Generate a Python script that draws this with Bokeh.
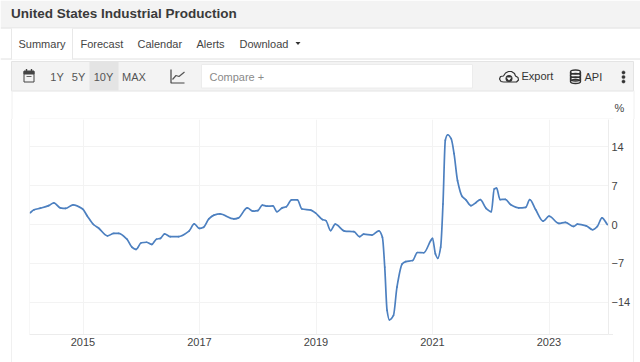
from bokeh.plotting import figure
from bokeh.layouts import column
from bokeh.models import Range1d, FixedTicker, Span
from bokeh.core.properties import value
from bokeh.embed import file_html
from bokeh.resources import INLINE

years = [2014.09,2014.16,2014.27,2014.41,2014.50,2014.61,2014.70,2014.83,2014.99,2015.07,2015.18,2015.27,2015.42,2015.53,2015.61,2015.75,2015.84,2015.91,2016.00,2016.09,2016.18,2016.26,2016.33,2016.40,2016.50,2016.64,2016.82,2016.91,2017.00,2017.07,2017.16,2017.25,2017.35,2017.59,2017.67,2017.82,2017.92,2018.00,2018.08,2018.16,2018.26,2018.33,2018.42,2018.49,2018.58,2018.68,2018.76,2018.91,2018.99,2019.11,2019.17,2019.25,2019.33,2019.49,2019.65,2019.75,2019.82,2019.96,2020.08,2020.14,2020.18,2020.22,2020.26,2020.33,2020.39,2020.48,2020.54,2020.66,2020.74,2020.85,2020.97,2021.00,2021.05,2021.09,2021.14,2021.18,2021.22,2021.26,2021.32,2021.37,2021.43,2021.51,2021.57,2021.66,2021.74,2021.82,2021.92,2022.01,2022.06,2022.10,2022.16,2022.25,2022.34,2022.48,2022.60,2022.67,2022.77,2022.90,2023.00,2023.17,2023.28,2023.42,2023.49,2023.64,2023.75,2023.83,2023.91,2024.00]
production = [2.1,2.65,2.95,3.4,3.9,3.0,2.9,3.55,2.83,1.6,0.0,-0.67,-2.05,-1.6,-1.6,-2.6,-4.1,-4.5,-3.3,-3.2,-3.6,-2.65,-2.5,-1.7,-2.2,-2.2,-1.2,0.1,-0.7,-0.5,1.0,1.7,1.9,1.0,1.2,3.0,2.4,2.5,3.5,3.3,3.35,2.3,3.0,3.2,4.45,4.45,2.8,2.6,2.1,0.9,0.7,-1.1,0.05,-1.2,-1.3,-2.2,-1.75,-1.9,-1.15,-2.3,-7.7,-15.5,-17.2,-16.4,-11.3,-7.1,-6.7,-6.5,-5.05,-5.1,-2.9,-2.5,-5.3,-6.1,-4.1,3.7,15.2,16.2,15.5,12.8,7.9,5.05,4.5,3.4,3.9,4.5,2.9,2.3,6.4,6.55,4.5,4.55,3.6,3.0,3.1,4.5,2.7,0.6,1.5,0.2,0.4,-0.35,0.05,-0.25,-0.95,-0.35,1.2,0.0]
x_ticks = [2015,2017,2019,2021,2023]
y_ticks = [-14,-7,0,7,14]
title = "United States Industrial Production"
tabs = ["Summary","Forecast","Calendar","Alerts","Download"]
tab_x = [18,80,137,196,239]
ranges = ["1Y","5Y","10Y","MAX"]
range_x = [56.5,78,103,133.5]

FONT = value("Liberation Sans")
TXT = "#444444"
PANEL = "#f3f3f3"
EDGE = "#e4e4e4"

# ---- page furniture, in page pixels ----
W, H_TOP, H_CH = 640, 119, 243
top = figure(width=W, height=H_TOP, x_range=Range1d(0,640), y_range=Range1d(119,0),
             toolbar_location=None, output_backend="svg", min_border=0, frame_align=False)
top.axis.visible = False
top.grid.visible = False
top.outline_line_color = None

def rect(p, l, r, t, b, fill, line=None):
    p.quad(left=[l], right=[r], top=[t], bottom=[b], fill_color=fill, line_color=line)
def txt(p, x, y, s, size="11px", color=TXT, style="normal", align="left"):
    p.text(x=[x], y=[y], text=[s], text_font=FONT, text_font_size=size, text_color=color,
           text_font_style=style, text_baseline="middle", text_align=align)
def seg(p, xs, ys, color="#444444", w=1.2):
    p.line(xs, ys, line_color=color, line_width=w)

rect(top, 0, 640, 0, 27, PANEL)
seg(top, [0,640], [27.5,27.5], "#dddddd", 1)
seg(top, [0,640], [58.5,58.5], "#e0e0e0", 1)
rect(top, 11, 72, 28, 59, "white")
seg(top, [11,11], [28,59], "#e8e8e8", 1)
seg(top, [72,72], [28,59], "#e8e8e8", 1)
rect(top, 11, 633, 61, 90.5, PANEL, EDGE)
rect(top, 89, 118, 61.5, 90, "#e4e4e4")
rect(top, 201, 472, 64, 87.5, "white", "#ececec")
seg(top, [11.5,11.5], [90,119], "#f0f0f0", 1)
seg(top, [633.5,633.5], [90,119], "#f0f0f0", 1)
seg(top, [29,613], [118.5,118.5], "#f2f2f2", 1)

txt(top, 10.5, 13, title, "13.5px", "#3a3a3a", "bold")
for s, x in zip(tabs, tab_x):
    txt(top, x, 43, s)
top.patch([295,300,297.5],[41.5,41.5,44.5],fill_color="#333333",line_color=None)
for s, x in zip(ranges, range_x):
    txt(top, x, 76.5, s, "11px", "#555555", align="center")
txt(top, 209, 76, "Compare +", "11px", "#8a8a8a")
txt(top, 521, 75.5, "Export", "11px", "#333333")
txt(top, 584, 76, "API", "11px", "#333333")
txt(top, 619, 107.5, "%", "11px", TXT, align="center")

# calendar icon
rect(top, 23.5, 33.5, 71, 81.5, None, "#444444")
rect(top, 23.5, 33.5, 70.5, 73.5, "#444444", "#444444")
seg(top, [26,26],[68.5,71],"#444444",1.4); seg(top, [31,31],[68.5,71],"#444444",1.4)
seg(top, [26,31],[76,76],"#666666",1)
# line chart icon
seg(top, [170.5,170.5,184],[69,82.5,82.5])
seg(top, [172,175.5,178.5,184],[79,75,76,71.5],"#555555")
# cloud icon
top.line([503,500.5,499,500,503,505,508,511,514,515,517.5,518,516,513,503],
         [81.5,81,78.5,76,75.5,72.5,71,71,73,75.5,77,79.5,81.5,81.5,81.5],line_color="#333333",line_width=1.2)
top.scatter([508.5],[78],size=7,fill_color="#333333",line_color=None)
top.patch([506,511,508.5],[77,77,80],fill_color="white",line_color=None)
# database icon
top.ellipse([575],[71.5],width=10,height=4,fill_color=None,line_color="#333333",line_width=1.3)
top.ellipse([575],[75],width=10,height=4,fill_color=None,line_color="#333333",line_width=1.3)
top.ellipse([575],[78.5],width=10,height=4,fill_color=None,line_color="#333333",line_width=1.3)
top.ellipse([575],[81],width=10,height=4,fill_color=None,line_color="#333333",line_width=1.3)
seg(top, [570,570],[71.5,81],"#333333",1.3); seg(top, [580,580],[71.5,81],"#333333",1.3)
# kebab
top.scatter([623,623,623],[72,76.5,81],size=3.2,fill_color="#333333",line_color="#333333",line_width=0.5)

# ---- chart ----
x0, x1 = 2015 + (29-82.5)/58.25, 2015 + (608-82.5)/58.25
y0, y1 = (224-334)/5.54, (224-119)/5.54
p = figure(width=W, height=H_CH, x_range=Range1d(x0,x1), y_range=Range1d(y0,y1),
           toolbar_location=None, output_backend="svg", y_axis_location="right", frame_align=False,
           min_border_left=29, min_border_right=32, min_border_top=0, min_border_bottom=28)
p.outline_line_color = None
p.border_fill_color = None
p.background_fill_color = "white"
p.styles = {"background":
    "linear-gradient(#f0f0f0,#f0f0f0) 11px 0/1px 100% no-repeat,"
    "linear-gradient(#f0f0f0,#f0f0f0) 633px 0/1px 100% no-repeat,"
    "linear-gradient(#ececec,#ececec) 608px 215px/5px 1px no-repeat"}
p.xaxis.ticker = FixedTicker(ticks=x_ticks)
p.yaxis.ticker = FixedTicker(ticks=y_ticks)
for ax in (p.xaxis, p.yaxis):
    ax.major_tick_line_color = None
    ax.minor_tick_line_color = None
    ax.major_tick_out = 0
    ax.minor_tick_out = 0
    ax.axis_line_color = "#ececec"
    ax.major_label_text_font = "Liberation Sans"
    ax.major_label_text_font_size = "11px"
    ax.major_label_text_color = TXT
    ax.major_label_standoff = 3
p.xgrid.grid_line_color = "#f3f3f3"
p.ygrid.grid_line_color = "#f3f3f3"
p.add_layout(Span(location=x0, dimension="height", line_color="#f0f0f0", line_width=1))

# smooth curve through the read values, with no overshoot
n = len(years)
dx = [years[i+1]-years[i] for i in range(n-1)]
sl = [(production[i+1]-production[i])/dx[i] for i in range(n-1)]
m = [sl[0]] + [0.0 if sl[i-1]*sl[i] <= 0 else 2*sl[i-1]*sl[i]/(sl[i-1]+sl[i]) for i in range(1,n-1)] + [sl[-1]]
p.bezier(x0=years[:-1], y0=production[:-1], x1=years[1:], y1=production[1:],
         cx0=[years[i]+dx[i]/3 for i in range(n-1)], cy0=[production[i]+m[i]*dx[i]/3 for i in range(n-1)],
         cx1=[years[i+1]-dx[i]/3 for i in range(n-1)], cy1=[production[i+1]-m[i+1]*dx[i]/3 for i in range(n-1)],
         line_color="#4d80c0", line_width=1.7, line_cap="round")

page = column(top, p, spacing=0)
open("out.html","w").write(file_html(page, INLINE))
